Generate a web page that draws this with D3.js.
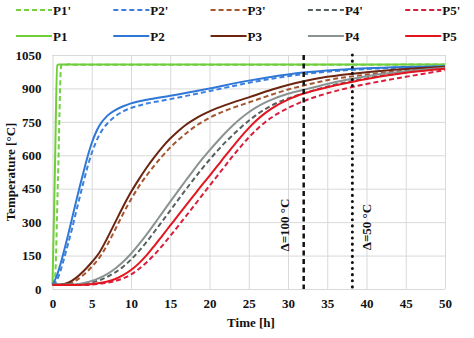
<!DOCTYPE html>
<html>
<head>
<meta charset="utf-8">
<script src="https://cdn.jsdelivr.net/npm/d3@7/dist/d3.min.js"></script>
<style>
  body { margin: 0; background: #fff; }
  text { font-family: "Liberation Serif", "Times New Roman", serif; font-weight: bold; fill: #111; }
</style>
</head>
<body>
<svg id="chart" width="474" height="338"></svg>
<script>
// temperature histories, [time h, temperature °C]
var P1 = [[0,20],[0.3,520],[0.6,1003],[0.8,1007],[50,1007]];
var P1d = [[0,20],[0.3,40],[0.7,500],[1.1,1000],[1.3,1008],[1.8,1006],[2.2,1010],[2.6,1006],[50,1007]];
var P2 = [[0,20],[0.5,55],[1,110],[1.5,175],[2,245],[2.5,318],[3,392],[3.5,463],[4,532],[4.5,598],[5,655],[5.5,700],[6,735],[7,778],[8,803],[9,820],[10,833],[12,849],[15,867],[20,900],[25,935],[30,963],[35,980],[40,990],[45,996],[50,1000]];
var P2d = [[0,20],[0.5,35],[1,80],[1.5,140],[2,205],[2.5,272],[3,345],[3.5,417],[4,487],[4.5,553],[5,610],[5.5,656],[6,694],[7,743],[8,775],[9,797],[10,812],[12,832],[15,852],[20,888],[25,925],[30,955],[35,975],[40,987],[45,994],[50,998]];
var P3 = [[0,20],[1,20],[2,28],[3,50],[4,82],[5,120],[6,165],[7,230],[8,300],[9,370],[10,435],[11,492],[12,545],[13,593],[14,637],[15,675],[16,708],[17,737],[18,760],[19,780],[20,797],[22,825],[25,860],[28,895],[30,915],[32,932],[35,952],[40,973],[45,987],[50,997]];
var P3d = [[0,20],[1,20],[2,22],[3,38],[4,65],[5,100],[6,142],[7,200],[8,268],[9,338],[10,402],[11,460],[12,510],[13,555],[14,597],[15,635],[16,668],[17,698],[18,725],[19,748],[20,768],[22,800],[25,837],[28,873],[30,895],[32,913],[35,937],[40,962],[45,980],[50,993]];
var P4 = [[0,20],[2,20],[3,21],[4,27],[5,36],[6,50],[7,68],[8,92],[9,122],[10,158],[11,200],[12,245],[13,293],[14,343],[15,392],[16,440],[17,488],[18,535],[19,580],[20,622],[21,662],[22,700],[23,735],[24,766],[25,793],[26,816],[27,835],[28,851],[30,876],[32,894],[35,920],[38,942],[40,955],[45,977],[50,993]];
var P4d = [[0,20],[3,20],[4,24],[5,30],[6,40],[7,55],[8,75],[9,100],[10,132],[11,170],[12,212],[13,258],[14,305],[15,352],[16,400],[17,447],[18,493],[19,538],[20,580],[21,620],[22,658],[23,692],[24,725],[25,755],[26,782],[27,805],[28,825],[30,855],[32,878],[35,908],[38,932],[40,945],[45,972],[50,990]];
var P5 = [[0,18],[3,18],[4,19],[5,22],[6,27],[7,34],[8,45],[9,62],[10,85],[11,115],[12,152],[13,195],[14,240],[15,285],[16,330],[17,375],[18,420],[19,465],[20,508],[21,552],[22,597],[23,640],[24,683],[25,722],[26,757],[27,787],[28,812],[30,850],[32,877],[35,905],[38,928],[40,942],[45,970],[50,988]];
var P5d = [[0,18],[4,18],[5,20],[6,23],[7,28],[8,36],[9,48],[10,65],[11,90],[12,120],[13,155],[14,195],[15,238],[16,282],[17,327],[18,372],[19,418],[20,463],[21,508],[22,553],[23,598],[24,640],[25,680],[26,715],[27,746],[28,772],[30,812],[32,843],[35,878],[38,905],[40,920],[45,952],[50,982]];

var names = ['P1', 'P2', 'P3', 'P4', 'P5'];
var solidSeries = [P1, P2, P3, P4, P5];
var dashedSeries = [P1d, P2d, P3d, P4d, P5d];
var solidColors = ['#6fcf3a', '#2f78d6', '#6b2510', '#8a9292', '#e3151f'];
var dashedColors = ['#74d040', '#3b80e0', '#a6552f', '#55605f', '#d81e3c'];

var xTicks = d3.range(0, 51, 5);
var yTicks = d3.range(0, 1051, 150);

// vertical markers: time h and label
var markers = [{ t: 32, label: 'Δ=100 °C', dash: '5,3.5' }, { t: 38.2, label: 'Δ=50 °C', dash: '0.1,6' }];

var svg = d3.select('#chart');
var pLeft = 52.5, pRight = 445, pTop = 55, pBottom = 289;

var x = d3.scaleLinear().domain([0, 50]).range([pLeft, pRight]);
var y = d3.scaleLinear().domain([0, 1050]).range([pBottom, pTop]);

// grid + tick labels
var gx = svg.append('g')
  .attr('transform', 'translate(0,' + pBottom + ')')
  .call(d3.axisBottom(x).tickValues(xTicks).tickSize(-(pBottom - pTop)).tickPadding(10));
var gy = svg.append('g')
  .attr('transform', 'translate(' + pLeft + ',0)')
  .call(d3.axisLeft(y).tickValues(yTicks).tickFormat(d3.format('d')).tickSize(-(pRight - pLeft)).tickPadding(11));

[gx, gy].forEach(function (g) {
  g.select('.domain').remove();
  g.selectAll('.tick line').attr('stroke', '#d9d9d9').attr('stroke-width', 1);
  g.selectAll('.tick text').attr('font-size', 13).attr('fill', '#111')
    .style('font-family', '"Liberation Serif", serif').style('font-weight', 'bold');
});

var line = d3.line()
  .x(function (d) { return x(d[0]); })
  .y(function (d) { return y(d[1]); })
  .curve(d3.curveMonotoneX);

var plot = svg.append('g');

dashedSeries.forEach(function (s, i) {
  plot.append('path').datum(s)
    .attr('d', line)
    .attr('fill', 'none')
    .attr('stroke', dashedColors[i])
    .attr('stroke-width', 2)
    .attr('stroke-dasharray', '5,3');
});

solidSeries.forEach(function (s, i) {
  plot.append('path').datum(s)
    .attr('d', line)
    .attr('fill', 'none')
    .attr('stroke', solidColors[i])
    .attr('stroke-width', 2);
});

// delta markers
markers.forEach(function (m, i) {
  svg.append('line')
    .attr('x1', x(m.t)).attr('x2', x(m.t))
    .attr('y1', pTop).attr('y2', pBottom)
    .attr('stroke', '#111')
    .attr('stroke-width', i === 0 ? 2.5 : 3)
    .attr('stroke-linecap', i === 0 ? 'butt' : 'round')
    .attr('stroke-dasharray', m.dash);
});

svg.append('text')
  .attr('transform', 'translate(' + (x(32) - 15) + ',225) rotate(-90)')
  .attr('text-anchor', 'middle').attr('font-size', 13)
  .text(markers[0].label);
svg.append('text')
  .attr('transform', 'translate(' + (x(38.2) + 19) + ',227) rotate(-90)')
  .attr('text-anchor', 'middle').attr('font-size', 13)
  .text(markers[1].label);

// axis titles
svg.append('text')
  .attr('x', 251).attr('y', 327)
  .attr('text-anchor', 'middle').attr('font-size', 13)
  .text('Time [h]');
svg.append('text')
  .attr('transform', 'translate(15,172) rotate(-90)')
  .attr('text-anchor', 'middle').attr('font-size', 13)
  .text('Temperature [°C]');

// legend, dashed row on top
var legend = svg.append('g');
names.forEach(function (n, i) {
  var lx = 16 + i * 97.3;
  legend.append('line')
    .attr('x1', lx).attr('x2', lx + 36).attr('y1', 10).attr('y2', 10)
    .attr('stroke', dashedColors[i]).attr('stroke-width', 2).attr('stroke-dasharray', '5,3');
  legend.append('text').attr('x', lx + 37).attr('y', 14.5).attr('font-size', 13).text(n + "'");
  legend.append('line')
    .attr('x1', lx).attr('x2', lx + 36).attr('y1', 36).attr('y2', 36)
    .attr('stroke', solidColors[i]).attr('stroke-width', 2);
  legend.append('text').attr('x', lx + 37).attr('y', 40.5).attr('font-size', 13).text(n);
});
</script>
</body>
</html>
